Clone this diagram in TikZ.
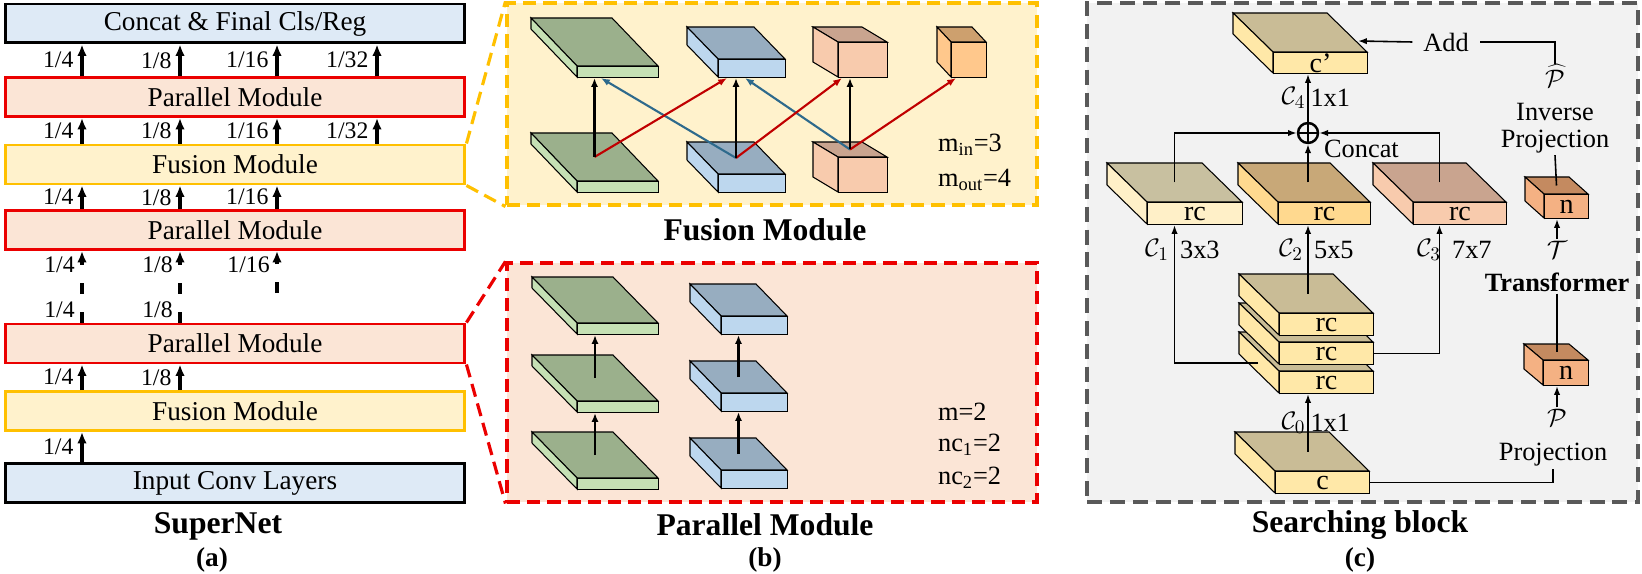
\documentclass[tikz,border=0pt]{standalone}
\usepackage{fontspec}
\setmainfont{Liberation Serif}
\usetikzlibrary{arrows.meta,positioning}

\definecolor{CatFill}{RGB}{222,234,246}
\definecolor{ParFill}{RGB}{251,229,214}
\definecolor{ParLine}{RGB}{235,0,0}
\definecolor{FusFill}{RGB}{255,242,204}
\definecolor{FusLine}{RGB}{255,192,0}
\definecolor{GreyFill}{RGB}{242,242,242}
\definecolor{GreyLine}{RGB}{89,89,89}
\definecolor{RedArr}{RGB}{192,0,0}
\definecolor{BlueArr}{RGB}{46,106,140}
\definecolor{GreenTop}{RGB}{155,176,140}
\definecolor{GreenFront}{RGB}{197,224,180}
\definecolor{BlueTop}{RGB}{151,173,192}
\definecolor{BlueFront}{RGB}{189,215,238}
\definecolor{PinkTop}{RGB}{201,164,143}
\definecolor{PinkFront}{RGB}{248,203,173}
\definecolor{OrangeTop}{RGB}{205,160,110}
\definecolor{OrangeFront}{RGB}{255,200,140}
\definecolor{TanTop}{RGB}{201,188,150}
\definecolor{TanFront}{RGB}{255,232,168}
\definecolor{PaleTop}{RGB}{200,192,160}
\definecolor{PaleFront}{RGB}{255,240,200}
\definecolor{GoldTop}{RGB}{200,168,120}
\definecolor{GoldFront}{RGB}{255,217,143}
\definecolor{NTop}{RGB}{196,138,96}
\definecolor{NFront}{RGB}{244,177,131}

% name, x, y (front top left), w, h, dx, dy, scheme, label
\newcommand{\cube}[9]{%
  \filldraw[#8 top] (#2,#3) -- ++(#4,0) -- ++(-#6,-#7) -- ++(-#4,0) -- cycle;
  \filldraw[#8 front] (#2,#3) -- ++(-#6,-#7) -- ++(0,#5) -- ++(#6,#7) -- cycle;
  \node[#8 front, draw, minimum width=#4*0.02cm, minimum height=#5*0.02cm,
        inner sep=0pt, anchor=north west] (#1) at (#2,#3) {#9};
  \coordinate (#1-t) at (#2+#4/2-#6/2, #3-#7/2);
}

\begin{document}
\begin{tikzpicture}[x=0.02cm, y=-0.02cm,
  >=Latex,
  block/.style={rectangle, draw, line width=1.7pt, minimum width=9.2cm, minimum height=0.78cm, inner sep=0pt, font=\fontsize{15.5}{17}\selectfont},
  frac/.style={left, inner sep=4pt, font=\fontsize{13.5}{15}\selectfont},
  arr/.style={-{Latex[length=6.5pt,width=5.5pt]}, line width=1.8pt},
  darr/.style={arr, dash pattern=on 6.2pt off 10.2pt},
  barr/.style={-{Latex[length=5pt,width=4pt]}, line width=1.2pt},
  carr/.style={-{Latex[length=5pt,width=3.6pt]}, line width=0.9pt},
  cline/.style={line width=0.9pt},
  dashbox/.style={line width=1.8pt, dash pattern=on 7.5pt off 4pt},
  title/.style={font=\fontsize{18}{20}\selectfont\bfseries},
  sub/.style={font=\fontsize{15.5}{17}\selectfont\bfseries},
  txt/.style={font=\fontsize{15}{16}\selectfont, inner sep=1pt},
  green top/.style={fill=GreenTop, draw, line width=0.6pt},
  green front/.style={fill=GreenFront, line width=0.6pt},
  blue top/.style={fill=BlueTop, draw, line width=0.6pt},
  blue front/.style={fill=BlueFront, line width=0.6pt},
  pink top/.style={fill=PinkTop, draw, line width=0.6pt},
  pink front/.style={fill=PinkFront, line width=0.6pt, font=\fontsize{16}{17}\selectfont},
  orange top/.style={fill=OrangeTop, draw, line width=0.6pt},
  orange front/.style={fill=OrangeFront, line width=0.6pt},
  tan top/.style={fill=TanTop, draw, line width=0.6pt},
  tan front/.style={fill=TanFront, line width=0.6pt, font=\fontsize{16}{17}\selectfont},
  pale top/.style={fill=PaleTop, draw, line width=0.6pt},
  pale front/.style={fill=PaleFront, line width=0.6pt, font=\fontsize{16}{17}\selectfont},
  gold top/.style={fill=GoldTop, draw, line width=0.6pt},
  gold front/.style={fill=GoldFront, line width=0.6pt, font=\fontsize{16}{17}\selectfont},
  n top/.style={fill=NTop, draw, line width=0.6pt},
  n front/.style={fill=NFront, line width=0.6pt, font=\fontsize{16}{17}\selectfont}
]
\useasboundingbox (0,0) rectangle (1642,574);

% (a) SuperNet
\node[block, fill=CatFill] (cat) at (235,23.5) {Concat \& Final Cls/Reg};
\node[block, fill=ParFill, draw=ParLine] (par1) at (235,97) {Parallel Module};
\node[block, fill=FusFill, draw=FusLine] (fus1) at (235,164.5) {Fusion Module};
\node[block, fill=ParFill, draw=ParLine] (par2) at (235,230) {Parallel Module};
\node[block, fill=ParFill, draw=ParLine] (par3) at (235,343.5) {Parallel Module};
\node[block, fill=FusFill, draw=FusLine] (fus2) at (235,411) {Fusion Module};
\node[block, fill=CatFill] (inp) at (235,483) {Input Conv Layers};
\node[title] (supernet) at (218,526) {SuperNet};
\node[sub] (suba) at (212,560) {(a)};

\coordinate (c1) at (82,0);
\coordinate (c2) at (180,0);
\coordinate (c3) at (277,0);
\coordinate (c4) at (377,0);

\foreach \c/\d in {c1/4, c2/8, c3/16, c4/32} {
  \draw[arr] (par1.north -| \c) -- (cat.south -| \c) node[frac, midway] {1/\d};
  \draw[arr] (fus1.north -| \c) -- (par1.south -| \c) node[frac, midway] {1/\d};
}
\foreach \c/\d in {c1/4, c2/8, c3/16} {
  \draw[arr] (par2.north -| \c) -- (fus1.south -| \c) node[frac, midway] {1/\d};
  \node[frac] (up\d) at (\c |- 0,265) {1/\d};
}
\foreach \c/\d in {c1/4, c2/8} {
  \draw[darr] (par3.north -| \c) -- (par2.south -| \c);
  \node[frac] (lo\d) at (\c |- 0,310) {1/\d};
  \draw[arr] (fus2.north -| \c) -- (par3.south -| \c) node[frac, midway] {1/\d};
}
\coordinate (d3) at (277,293);
\draw[darr] (d3) -- (par2.south -| d3);
\draw[arr] (inp.north -| c1) -- (fus2.south -| c1) node[frac, midway] {1/4};

% (b) Fusion Module
\node[dashbox, draw=FusLine, fill=FusFill, minimum width=10.6cm, minimum height=4.04cm] (fbox) at (772,104) {};
\draw[dashbox, draw=FusLine] (fus1.north east) -- (fbox.north west);
\draw[dashbox, draw=FusLine] (fus1.south east) -- (fbox.south west);

\cube{fg1}{577}{66}{81}{11}{46}{48}{green}{}
\cube{fb1}{718}{59}{67}{18}{31}{32}{blue}{}
\cube{fp1}{838}{42}{49}{35}{25}{15}{pink}{}
\cube{fo1}{951}{42}{35}{35}{14}{15}{orange}{}
\cube{fg0}{577}{181}{81}{11}{46}{48}{green}{}
\cube{fb0}{718}{174}{67}{18}{31}{32}{blue}{}
\cube{fp0}{838}{157}{49}{35}{25}{15}{pink}{}

\draw[barr, BlueArr] (fb0-t) -- ([xshift=0.48cm]fg1.south west);
\draw[barr, BlueArr] (fp0-t) -- ([xshift=0.54cm]fb1.south west);
\draw[barr, RedArr] (fg0-t) -- ([xshift=0.18cm]fb1.south west);
\draw[barr, RedArr] (fb0-t) -- ([xshift=0.08cm]fp1.south west);
\draw[barr, RedArr] (fp0-t) -- ([xshift=0.1cm]fo1.south west);
\draw[barr] (fg0-t) -- (fg0-t |- fg1.south);
\draw[barr] (fb0-t) -- (fb0-t |- fb1.south);
\draw[barr] (fp0-t) -- (fp0-t |- fp1.south);

\node[txt, anchor=west] (min) at (936,145) {m\textsubscript{in}=3};
\node[txt, anchor=west] (mout) at (936,180) {m\textsubscript{out}=4};
\node[title] (fustitle) at (765,230) {Fusion Module};

% (b) Parallel Module
\node[dashbox, draw=ParLine, fill=ParFill, minimum width=10.6cm, minimum height=4.78cm] (pbox) at (772,382.5) {};
\draw[dashbox, draw=ParLine] (par3.north east) -- (pbox.north west);
\draw[dashbox, draw=ParLine] (par3.south east) -- (pbox.south west);

\cube{pg0}{577}{478}{81}{11}{45}{46}{green}{}
\cube{pg1}{577}{401}{81}{11}{45}{46}{green}{}
\cube{pg2}{577}{323}{81}{11}{45}{46}{green}{}
\cube{pb0}{721}{470}{66}{18}{31}{32}{blue}{}
\cube{pb1}{721}{393}{66}{18}{31}{32}{blue}{}
\cube{pb2}{721}{316}{66}{18}{31}{32}{blue}{}

\draw[barr] (pg0-t) -- (pg0-t |- pg1.south);
\draw[barr] (pg1-t) -- (pg1-t |- pg2.south);
\draw[barr] (pb0-t) -- (pb0-t |- pb1.south);
\draw[barr] (pb1-t) -- (pb1-t |- pb2.south);

\node[txt, anchor=west] (m) at (936,412) {m=2};
\node[txt, anchor=west] (nc1) at (936,445) {nc\textsubscript{1}=2};
\node[txt, anchor=west] (nc2) at (936,478) {nc\textsubscript{2}=2};
\node[title] (partitle) at (765,525) {Parallel Module};
\node[sub] (subb) at (765,560) {(b)};

% (c) Searching block
\node[draw=GreyLine, fill=GreyFill, line width=2pt, dash pattern=on 8.5pt off 4.5pt,
      minimum width=11.02cm, minimum height=9.98cm] (gbox) at (1362.5,252.5) {};

\cube{cp}{1273}{52}{94}{21}{40}{39}{tan}{c'}
\cube{r1}{1147}{202}{95}{22}{40}{39}{pale}{rc}
\cube{r2}{1278}{202}{92}{22}{40}{39}{gold}{rc}
\cube{r3}{1413}{202}{93}{22}{40}{39}{pink}{rc}
\cube{s0}{1279}{371}{94}{22}{40}{39}{tan}{rc}
\cube{s1}{1279}{342}{94}{22}{40}{39}{tan}{rc}
\cube{s2}{1279}{313}{94}{22}{40}{39}{tan}{rc}
\cube{c0}{1275}{471}{94}{22}{40}{39}{tan}{c}
\cube{n1}{1544}{194}{44}{24}{19}{17}{n}{n}
\cube{n0}{1543}{360}{45}{25}{19}{16}{n}{n}

\node[circle, draw, line width=1.4pt, minimum size=0.4cm, inner sep=0pt, fill=GreyFill] (op) at (1308,133) {};
\draw[line width=1.4pt] (op.north) -- (op.south) (op.west) -- (op.east);
\node[txt, anchor=west] (concat) at (1322,149) {Concat};

\draw[carr] (r1-t) |- (op.west);
\draw[carr] (r3-t) |- (op.east);
\draw[carr] (op |- r2-t) -- (op.south);
\draw[carr] (op.north) -- (op |- cp.south)
  node[txt, midway, left] {$\mathcal{C}_4$} node[txt, midway, right] {1x1};

\coordinate (s1l) at (1258,363);
\draw[carr] (s1l) -| (r1-t |- r1.south);
\draw[carr] (op |- s2-t) -- (op |- r2.south);
\draw[carr] (s1.east) -| (r3-t |- r3.south);
\draw[carr] (op |- c0-t) -- (op |- s0.south)
  node[txt, midway, left] {$\mathcal{C}_0$} node[txt, midway, right] {1x1};

\node[txt, anchor=east] (k1) at (1171,250) {$\mathcal{C}_1$};
\node[txt, anchor=west] (s33) at (1178,250) {3x3};
\node[txt, anchor=east] (k2) at (1305,250) {$\mathcal{C}_2$};
\node[txt, anchor=west] (s55) at (1312,250) {5x5};
\node[txt, anchor=east] (k3) at (1443,250) {$\mathcal{C}_3$};
\node[txt, anchor=west] (s77) at (1450,250) {7x7};

\node[txt] (proj) at (1553,455) {Projection};
\node[txt] (pp) at (1557,418) {$\mathcal{P}$};
\node[font=\fontsize{15}{17}\selectfont\bfseries, inner sep=1pt] (trans) at (1557,282) {Transformer};
\node[txt] (tt) at (1557,250) {$\mathcal{T}$};
\node[txt, align=center, font=\fontsize{15}{15.5}\selectfont] (inv) at (1555,128) {Inverse\\Projection};
\node[txt, inner sep=0pt] (phat) at (1555,76) {$\widehat{\mathcal{P}}$};
\node[txt, inner sep=6pt] (add) at (1446,42) {Add};
\coordinate (cpr) at (1358,41);

\draw[cline] (c0.east) -| (proj.south);
\draw[carr] (pp.north) -- (pp |- n0.south);
\draw[cline] (trans.south) -- (trans |- n0-t);
\draw[carr] (tt.north) -- (tt |- n1.south);
\draw[cline] (n1-t) -- (inv.south);
\draw[cline] (phat.north) |- (add.east);
\draw[carr] (add.west) -- (cpr);

\node[title] (searchtitle) at (1360,525) {Searching block};
\node[sub] (subc) at (1360,560) {(c)};
\end{tikzpicture}
\end{document}
